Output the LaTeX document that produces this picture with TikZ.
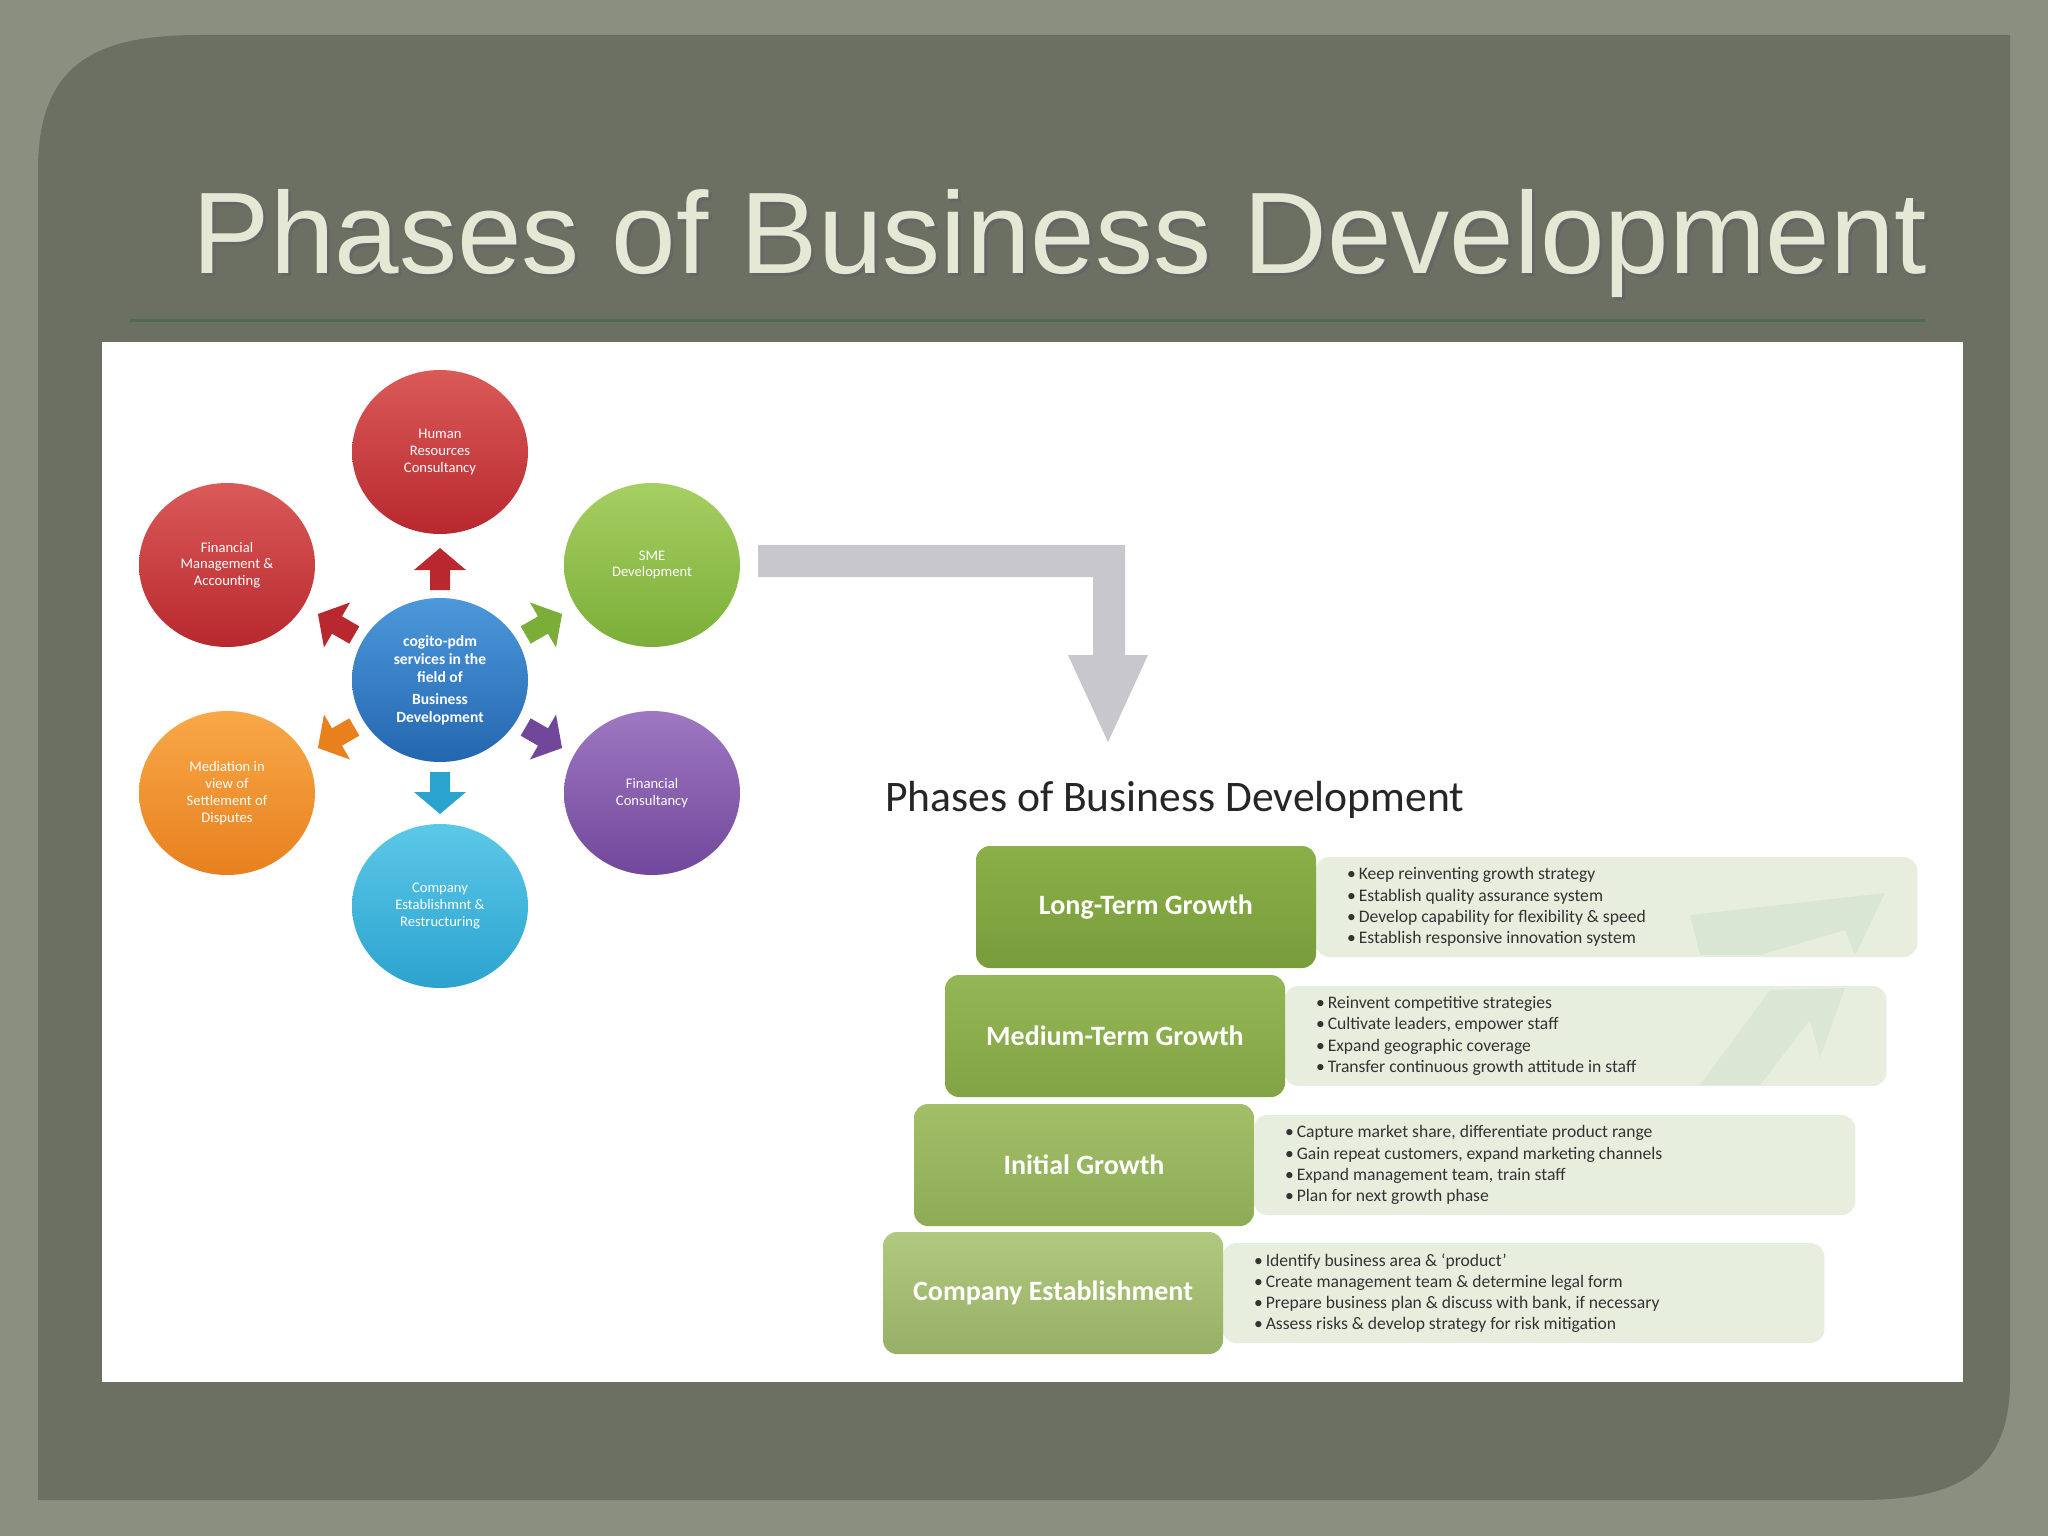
\documentclass[tikz,border=0pt]{standalone}
\usepackage{fontspec}
\setmainfont{Carlito}
\newfontfamily\titlefont{Liberation Sans}
\usetikzlibrary{shapes.geometric}
\definecolor{outerbg}{HTML}{8A8F80}
\definecolor{innerbg}{HTML}{6B7062}
\definecolor{titlec}{HTML}{E6E8D6}
\definecolor{rulec}{HTML}{4E6B4C}
\definecolor{gray1}{HTML}{C8C8CC}
\definecolor{panelc}{HTML}{E8EEDE}
\definecolor{txt}{HTML}{333333}
\definecolor{redT}{HTML}{DA5A58}\definecolor{redB}{HTML}{B8282E}
\definecolor{grnT}{HTML}{A6CF62}\definecolor{grnB}{HTML}{7BAE38}
\definecolor{purT}{HTML}{9E78C2}\definecolor{purB}{HTML}{70479A}
\definecolor{orgT}{HTML}{F8A848}\definecolor{orgB}{HTML}{E8801E}
\definecolor{cyaT}{HTML}{5CC8E8}\definecolor{cyaB}{HTML}{2BA3CF}
\definecolor{bluT}{HTML}{4C98DA}\definecolor{bluB}{HTML}{2466B0}
\definecolor{g1T}{HTML}{8BAF48}\definecolor{g1B}{HTML}{789C3A}
\definecolor{g2T}{HTML}{95B655}\definecolor{g2B}{HTML}{82A445}
\definecolor{g3T}{HTML}{A2BF68}\definecolor{g3B}{HTML}{8DAC55}
\definecolor{g4T}{HTML}{B0C97E}\definecolor{g4B}{HTML}{97B065}
\tikzset{
  bub/.style={ellipse,minimum width=88pt,minimum height=82pt,inner sep=0pt,text=white,font=\fontsize{7.3}{8.4}\selectfont,align=center},
  phase/.style={rounded corners=7pt,minimum width=170pt,minimum height=61pt,text=white,font=\fontsize{14}{16}\selectfont\bfseries},
  panel/.style={rounded corners=7pt,fill=panelc,minimum height=50pt,anchor=west},
  blt/.style={anchor=west,text=txt,font=\fontsize{8.8}{10.6}\selectfont,align=left}
}
\newcommand\smallarrow[3]{\fill[#1,shift={#2},rotate=#3] (-20,-10)--(0,-10)--(0,-26)--(22,0)--(0,26)--(0,10)--(-20,10)--cycle;}
\begin{document}
\begin{tikzpicture}[x=0.5pt,y=-0.5pt]
\useasboundingbox (0,0) rectangle (2048,1536);
\fill[outerbg] (0,0) rectangle (2048,1536);
\fill[innerbg] (38,1500) -- (38,170) .. controls (38,60) and (100,35) .. (200,35) -- (2010,35) -- (2010,1380) .. controls (2010,1470) and (1960,1500) .. (1860,1500) -- cycle;
\node[text=black!60,font=\titlefont\fontsize{58}{60}\selectfont] at (1063,247) {Phases of Business Development};
\node (title) [text=titlec,font=\titlefont\fontsize{58}{60}\selectfont] at (1060,244) {Phases of Business Development};
\draw[rulec,line width=1.5pt] (130,320) -- (1925,320);
\fill[white] (102,342) rectangle (1963,1382);
% bubbles
\node (hr) [bub,top color=redT,bottom color=redB] at (440,452) {Human\\Resources\\Consultancy};
\node (fm) [bub,top color=redT,bottom color=redB] at (227,565) {Financial\\Management \&\\Accounting};
\node (sme) [bub,top color=grnT,bottom color=grnB] at (652,565) {SME\\Development};
\node (cen) [bub,top color=bluT,bottom color=bluB,font=\fontsize{7.8}{9}\selectfont\bfseries] at (440,680) {cogito-pdm\\services in the\\field of\\[2pt]Business\\Development};
\node (med) [bub,top color=orgT,bottom color=orgB] at (227,793) {Mediation in\\view of\\Settlement of\\Disputes};
\node (fc) [bub,top color=purT,bottom color=purB] at (652,793) {Financial\\Consultancy};
\node (ce) [bub,top color=cyaT,bottom color=cyaB] at (440,906) {Company\\Establishmnt \&\\Restructuring};
\smallarrow{redB}{(440,570)}{90}
\smallarrow{redB}{(337,625)}{150}
\smallarrow{grnB}{(543,625)}{30}
\smallarrow{orgB}{(337,737)}{210}
\smallarrow{purB}{(543,737)}{-30}
\smallarrow{cyaB}{(440,792)}{270}
% bent arrow
\fill[gray1] (758,545)--(1125,545)--(1125,655)--(1148,655)--(1108,742)--(1068,655)--(1093,655)--(1093,577)--(758,577)--cycle;
\node (h2) [anchor=west,font=\fontsize{21.8}{24}\selectfont,text=black!85] at (878,800) {Phases of Business Development};
% panels
\node (p1) [panel,minimum width=301pt] at (1315,907) {};
\node (p2) [panel,minimum width=301pt] at (1284,1036) {};
\node (p3) [panel,minimum width=301pt] at (1253,1165) {};
\node (p4) [panel,minimum width=301pt] at (1222,1293) {};
\fill[green!40!black!25,opacity=0.35] (1690,915)--(1885,893)--(1855,955)--(1845,930)--(1760,955)--(1700,955)--cycle;
\fill[green!40!black!25,opacity=0.3] (1700,1085)--(1770,990)--(1845,988)--(1820,1058)--(1810,1020)--(1760,1085)--cycle;
\node (b1) [phase,top color=g1T,bottom color=g1B] at (1146,907) {Long-Term Growth};
\node (b2) [phase,top color=g2T,bottom color=g2B] at (1115,1036) {Medium-Term Growth};
\node (b3) [phase,top color=g3T,bottom color=g3B] at (1084,1165) {Initial Growth};
\node (b4) [phase,top color=g4T,bottom color=g4B] at (1053,1293) {Company Establishment};
\node (t1) [blt] at (1340,907) {\textbullet\,Keep reinventing growth strategy\\\textbullet\,Establish quality assurance system\\\textbullet\,Develop capability for flexibility \& speed\\\textbullet\,Establish responsive innovation system};
\node (t2) [blt] at (1309,1036) {\textbullet\,Reinvent competitive strategies\\\textbullet\,Cultivate leaders, empower staff\\\textbullet\,Expand geographic coverage\\\textbullet\,Transfer continuous growth attitude in staff};
\node (t3) [blt] at (1278,1165) {\textbullet\,Capture market share, differentiate product range\\\textbullet\,Gain repeat customers, expand marketing channels\\\textbullet\,Expand management team, train staff\\\textbullet\,Plan for next growth phase};
\node (t4) [blt] at (1247,1293) {\textbullet\,Identify business area \& `product'\\\textbullet\,Create management team \& determine legal form\\\textbullet\,Prepare business plan \& discuss with bank, if necessary\\\textbullet\,Assess risks \& develop strategy for risk mitigation};
\end{tikzpicture}
\end{document}
